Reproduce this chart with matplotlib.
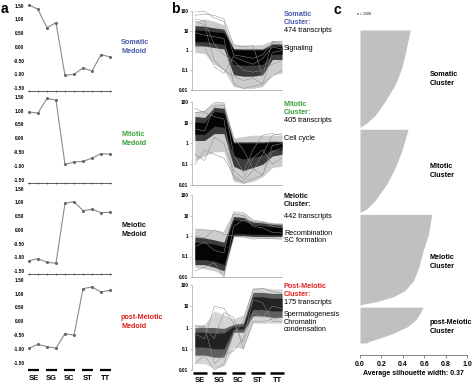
import matplotlib
matplotlib.use("Agg")
import matplotlib.pyplot as plt
import numpy as np

plt.rcParams['font.family'] = ['Liberation Sans', 'DejaVu Sans']

W, H = 474, 384

stages = ["SE", "SG", "SC", "ST", "TT"]
xpts = list(range(10))

# panel a: medoid profiles
somatic_medoid = [1.53, 1.37, 0.70, 0.88, -1.04, -1.00, -0.77, -0.88, -0.28, -0.37]
mitotic_medoid = [0.95, 0.91, 1.44, 1.38, -0.94, -0.85, -0.83, -0.71, -0.55, -0.57]
meiotic_medoid = [-1.13, -1.05, -1.18, -1.22, 0.97, 1.03, 0.70, 0.75, 0.63, 0.64]
postmeiotic_medoid = [-0.97, -0.83, -0.91, -0.97, -0.44, -0.50, 1.18, 1.24, 1.06, 1.12]

medoid_names = ["Somatic\nMedoid", "Mitotic\nMedoid", "Meiotic\nMedoid", "post-Meiotic\nMedoid"]
cluster_colors = ["#4a5aa8", "#3a9f3a", "#111111", "#e02020"]

# panel b: cluster envelopes (relative expression, log scale)
somatic_outer_hi = [30, 40, 30, 20, 2.0, 1.9, 1.9, 2.0, 3.2, 3.2]
somatic_outer_lo = [0.8, 0.7, 0.2, 0.1, 0.015, 0.012, 0.012, 0.015, 0.06, 0.07]
somatic_core_hi = [18, 17, 14, 12, 1.25, 1.2, 1.2, 1.2, 2.2, 2.1]
somatic_core_lo = [1.7, 1.7, 1.4, 1.2, 0.06, 0.05, 0.05, 0.06, 0.35, 0.35]
somatic_inner_hi = [11, 10, 9, 8, 1.1, 1.05, 1.05, 1.05, 1.7, 1.6]
somatic_inner_lo = [2.8, 2.8, 2.4, 2.0, 0.2, 0.18, 0.18, 0.2, 0.65, 0.65]
somatic_strays = [
    [100, 95, 45, 30, 0.6, 0.5, 0.4, 0.6, 2.5, 3.0],
    [2.0, 1.5, 0.15, 0.07, 0.5, 0.3, 0.2, 0.4, 1.5, 1.2],
    [30, 20, 0.3, 0.1, 0.05, 0.03, 0.04, 0.02, 0.8, 1.0],
    [60, 70, 60, 40, 2.0, 1.5, 1.8, 0.05, 3.0, 2.0],
    [8, 6, 5, 4, 0.02, 0.012, 0.015, 0.02, 0.05, 0.1],
    [40, 30, 2, 0.6, 0.3, 0.1, 0.08, 0.1, 0.2, 0.3],
]

mitotic_outer_hi = [35, 40, 90, 90, 1.8, 2.2, 2.5, 2.5, 2.5, 2.5]
mitotic_outer_lo = [0.15, 0.25, 0.4, 0.4, 0.015, 0.012, 0.015, 0.025, 0.07, 0.08]
mitotic_core_hi = [20, 18, 55, 50, 1.2, 1.2, 1.2, 1.2, 1.3, 1.25]
mitotic_core_lo = [1.4, 1.4, 3.0, 3.0, 0.08, 0.05, 0.07, 0.1, 0.25, 0.3]
mitotic_inner_hi = [11, 10, 35, 30, 1.05, 1.05, 1.05, 1.05, 1.15, 1.15]
mitotic_inner_lo = [2.8, 2.8, 7, 6, 0.25, 0.18, 0.22, 0.28, 0.5, 0.5]
mitotic_strays = [
    [30, 35, 95, 90, 0.3, 0.04, 0.5, 2.5, 3.0, 2.5],
    [0.3, 0.15, 2.0, 1.0, 0.05, 0.02, 0.2, 0.5, 0.1, 0.2],
    [5, 4, 60, 70, 2.0, 0.5, 0.06, 0.03, 0.8, 1.0],
    [50, 30, 20, 15, 0.02, 0.015, 0.05, 0.3, 2.5, 3.0],
    [0.1, 0.5, 0.3, 0.2, 0.03, 0.012, 0.02, 0.03, 0.4, 0.6],
]

meiotic_outer_hi = [2.2, 2.2, 1.8, 1.5, 14, 13, 6, 5.5, 4.5, 4.5]
meiotic_outer_lo = [0.03, 0.025, 0.02, 0.012, 0.9, 0.9, 0.8, 0.8, 0.75, 0.75]
meiotic_core_hi = [0.9, 0.8, 0.65, 0.5, 9, 8, 4.8, 4.4, 3.8, 3.8]
meiotic_core_lo = [0.04, 0.04, 0.03, 0.02, 1.05, 1.05, 0.95, 0.95, 0.95, 0.95]
meiotic_inner_hi = [0.5, 0.45, 0.4, 0.3, 6, 5.5, 3.4, 3.2, 2.8, 2.8]
meiotic_inner_lo = [0.07, 0.07, 0.06, 0.04, 1.3, 1.3, 1.2, 1.2, 1.15, 1.15]
meiotic_strays = [
    [2.2, 2.0, 1.8, 1.5, 12, 10, 3, 2.5, 1.5, 1.4],
    [0.02, 0.03, 0.05, 0.01, 3, 6, 5, 4.5, 4, 3],
    [1.0, 0.8, 2.0, 1.2, 1.0, 0.9, 0.7, 0.8, 0.75, 0.7],
    [0.3, 0.5, 0.2, 0.15, 15, 14, 6, 5, 3, 2.5],
]

post_outer_hi = [1.4, 1.4, 6, 4, 2.5, 4, 75, 75, 65, 65]
post_outer_lo = [0.02, 0.02, 0.012, 0.015, 0.12, 0.1, 1.6, 1.6, 1.6, 1.6]
post_core_hi = [1.0, 1.0, 1.0, 0.9, 1.4, 1.6, 45, 45, 40, 40]
post_core_lo = [0.05, 0.05, 0.04, 0.04, 0.6, 0.6, 3.5, 3.5, 3, 3]
post_inner_hi = [0.6, 0.6, 0.55, 0.55, 1.15, 1.15, 28, 28, 24, 24]
post_inner_lo = [0.12, 0.12, 0.1, 0.1, 0.85, 0.85, 7, 7, 6, 6]
post_strays = [
    [0.5, 0.3, 10, 8, 1.5, 0.2, 5, 3, 10, 8],
    [0.02, 0.05, 0.01, 0.02, 0.5, 2.0, 60, 70, 50, 40],
    [1.2, 1.0, 0.3, 5.0, 3.0, 0.1, 2.0, 1.8, 2.5, 3.0],
    [0.8, 1.2, 0.02, 0.05, 0.08, 0.3, 20, 15, 2, 1.8],
]

clusters_b = [
    (somatic_outer_hi, somatic_outer_lo, somatic_core_hi, somatic_core_lo,
     somatic_inner_hi, somatic_inner_lo, somatic_strays),
    (mitotic_outer_hi, mitotic_outer_lo, mitotic_core_hi, mitotic_core_lo,
     mitotic_inner_hi, mitotic_inner_lo, mitotic_strays),
    (meiotic_outer_hi, meiotic_outer_lo, meiotic_core_hi, meiotic_core_lo,
     meiotic_inner_hi, meiotic_inner_lo, meiotic_strays),
    (post_outer_hi, post_outer_lo, post_core_hi, post_core_lo,
     post_inner_hi, post_inner_lo, post_strays),
]
cluster_titles = ["Somatic\nCluster:", "Mitotic\nCluster:", "Meiotic\nCluster:", "Post-Meiotic\nCluster:"]
cluster_counts = [474, 405, 442, 175]
cluster_terms = ["Signaling", "Cell cycle", "Recombination\nSC formation",
                 "Spermatogenesis\nChromatin\ncondensation"]

# panel c: silhouette outlines (fraction down the cluster, width)
sil_somatic_f = [0, 0.21, 0.39, 0.56, 0.74, 0.88, 0.96, 1.0]
sil_somatic_w = [0.47, 0.43, 0.39, 0.33, 0.23, 0.14, 0.06, 0.0]
sil_mitotic_f = [0, 0.26, 0.46, 0.66, 0.86, 0.96, 1.0]
sil_mitotic_w = [0.45, 0.39, 0.33, 0.25, 0.14, 0.06, 0.0]
sil_meiotic_f = [0, 0.22, 0.40, 0.58, 0.73, 0.84, 0.91, 0.96, 0.99, 1.0]
sil_meiotic_w = [0.67, 0.64, 0.59, 0.55, 0.50, 0.42, 0.31, 0.16, 0.03, 0.0]
sil_post_f = [0, 0.18, 0.36, 0.55, 0.73, 0.86, 0.95, 1.0]
sil_post_w = [0.59, 0.56, 0.52, 0.44, 0.31, 0.19, 0.09, 0.06]
sil_names = ["Somatic\nCluster", "Mitotic\nCluster", "Meiotic\nCluster", "post-Meiotic\nCluster"]


def rect(left, top, right, bottom):
    return [left / W, 1 - bottom / H, (right - left) / W, (bottom - top) / H]


fig = plt.figure(figsize=(W / 100, H / 100), dpi=100)

# ---- panel a
medoids = [somatic_medoid, mitotic_medoid, meiotic_medoid, postmeiotic_medoid]
a_tops = [3, 94, 186, 277]
a_bots = [91, 183, 274, 366]
label_y = [47, 139, 230, 322]
for i, med in enumerate(medoids):
    ax = fig.add_axes(rect(28, a_tops[i], 111, a_bots[i]))
    ax.plot(xpts, med, color="#8a8a8a", lw=0.8, marker="o", ms=1.2,
            mfc="#666666", mec="#666666")
    ax.set_xlim(-0.1, 9.1)
    ax.set_ylim(-1.61, 1.6)
    ax.set_yticks([1.5, 1.0, 0.5, 0.0, -0.5, -1.0, -1.5])
    ax.set_yticklabels(["%.2f" % v for v in [1.5, 1.0, 0.5, 0.0, -0.5, -1.0, -1.5]],
                       fontsize=3.4, fontweight="bold")
    ax.set_xticks(xpts)
    ax.set_xticklabels([])
    ax.tick_params(axis="y", length=0, pad=2.5)
    ax.tick_params(axis="x", length=1.8, width=0.5, direction="inout", color="#444444")
    for s in ["top", "right", "left"]:
        ax.spines[s].set_visible(False)
    ax.spines["bottom"].set_linewidth(0.6)
    ax.spines["bottom"].set_color("#444444")
    fig.text(121 / W, 1 - label_y[i] / H, medoid_names[i], fontsize=5.2,
             fontweight="bold", color=cluster_colors[i], va="center", ha="left",
             linespacing=1.25)
    if i == 3:
        ax.spines["bottom"].set_visible(False)
        ax.tick_params(axis="x", length=0)
        hpx = a_bots[i] - a_tops[i]
        for k, st in enumerate(stages):
            ax.plot([2 * k - 0.1, 2 * k + 1.1], [-(370 - a_bots[i]) / hpx] * 2,
                    color="black", lw=1.6, transform=ax.get_xaxis_transform(),
                    clip_on=False, solid_capstyle="butt")
            ax.text(2 * k + 0.5, -(379 - a_bots[i]) / hpx, st, fontsize=5.5,
                    fontweight="bold", ha="center", va="center",
                    transform=ax.get_xaxis_transform())

fig.text(4 / W, 1 - 9 / H, "a", fontsize=10, fontweight="bold", ha="center", va="center")

# ---- panel b
b_tops = [11, 102, 195, 285]
b_bots = [90, 185, 277, 370]
title_y = [18, 108, 201, 291]
count_y = [30, 121, 216, 303]
term_y = [49, 138, 237, 322]
for i, cl in enumerate(clusters_b):
    ohi, olo, chi, clo, ihi, ilo, strays = cl
    ax = fig.add_axes(rect(192, b_tops[i], 282, b_bots[i]))
    ax.set_yscale("log")
    light = i == 3
    ax.fill_between(xpts, olo, ohi, color="#cccccc" if not light else "#d4d4d4", lw=0)
    for s in strays:
        ax.plot(xpts, s, color="#8c8c8c", lw=0.35)
    ax.fill_between(xpts, clo, chi, color="#3c3c3c" if not light else "#5e5e5e", lw=0)
    ax.fill_between(xpts, ilo, ihi, color="#050505" if not light else "#222222", lw=0)
    ax.set_xlim(-0.3, 9.0)
    ax.set_ylim(0.01, 100)
    ax.set_yticks([100, 10, 1, 0.1, 0.01])
    ax.set_yticklabels(["100", "10", "1", "0.1", "0.01"], fontsize=3.4, fontweight="bold")
    ax.minorticks_off()
    ax.tick_params(axis="y", length=1.2, width=0.4, pad=1.2, color="#888888")
    ax.set_xticks([])
    for s in ["top", "right"]:
        ax.spines[s].set_visible(False)
    ax.spines["left"].set_color("#aaaaaa")
    ax.spines["left"].set_linewidth(0.5)
    ax.spines["bottom"].set_color("#aaaaaa")
    ax.spines["bottom"].set_linewidth(0.6)
    fig.text(284 / W, 1 - title_y[i] / H, cluster_titles[i], fontsize=5.2,
             fontweight="bold", color=cluster_colors[i], va="center", ha="left",
             linespacing=1.2)
    fig.text(284 / W, 1 - count_y[i] / H, "%d transcripts" % cluster_counts[i],
             fontsize=5.2, va="center", ha="left")
    fig.text(284 / W, 1 - term_y[i] / H, cluster_terms[i], fontsize=5.2,
             va="center", ha="left", linespacing=1.15)
    if i == 3:
        ax.spines["bottom"].set_visible(False)
        hpx = b_bots[i] - b_tops[i]
        for k, st in enumerate(stages):
            ax.plot([2 * k - 0.2, 2 * k + 1.2], [-(373 - b_bots[i]) / hpx] * 2,
                    color="black", lw=1.8, transform=ax.get_xaxis_transform(),
                    clip_on=False, solid_capstyle="butt")
            ax.text(2 * k + 0.5, -(381 - b_bots[i]) / hpx, st, fontsize=5.5,
                    fontweight="bold", ha="center", va="center",
                    transform=ax.get_xaxis_transform())

fig.text(175 / W, 1 - 9 / H, "b", fontsize=10, fontweight="bold", ha="center", va="center")

# ---- panel c
axc = fig.add_axes(rect(360, 30, 467, 355))
gap = 10
sil_f = [sil_somatic_f, sil_mitotic_f, sil_meiotic_f, sil_post_f]
sil_w = [sil_somatic_w, sil_mitotic_w, sil_meiotic_w, sil_post_w]
start = 0
for i in range(4):
    n = cluster_counts[i]
    yy = [start + f * n for f in sil_f[i]]
    axc.fill_betweenx(yy, 0, sil_w[i], color="#c0c0c0", lw=0)
    start += n + gap
total = start - gap
axc.set_ylim(total * 325 / 313, 0)
axc.set_xlim(0, 1)
axc.set_xticks([0, 0.2, 0.4, 0.6, 0.8, 1.0])
axc.set_xticklabels(["0.0", "0.2", "0.4", "0.6", "0.8", "1.0"], fontsize=5, fontweight="bold")
axc.tick_params(axis="x", length=2, width=0.5, pad=2, color="#555555")
axc.set_yticks([])
for s in ["top", "right", "left"]:
    axc.spines[s].set_visible(False)
axc.spines["bottom"].set_color("#555555")
axc.spines["bottom"].set_linewidth(0.5)
axc.set_xlabel("Average silhouette width: 0.37", fontsize=5, fontweight="bold", labelpad=2)
sil_label_y = [79, 171, 262, 327]
for i in range(4):
    fig.text(430 / W, 1 - sil_label_y[i] / H, sil_names[i], fontsize=5.2,
             fontweight="bold", va="center", ha="left", linespacing=1.25)
fig.text(357 / W, 1 - 14 / H, "n = 1508", fontsize=2.5, va="center", ha="left")
fig.text(337 / W, 1 - 10 / H, "c", fontsize=10, fontweight="bold", ha="center", va="center")

fig.savefig("out.png", dpi=100)
